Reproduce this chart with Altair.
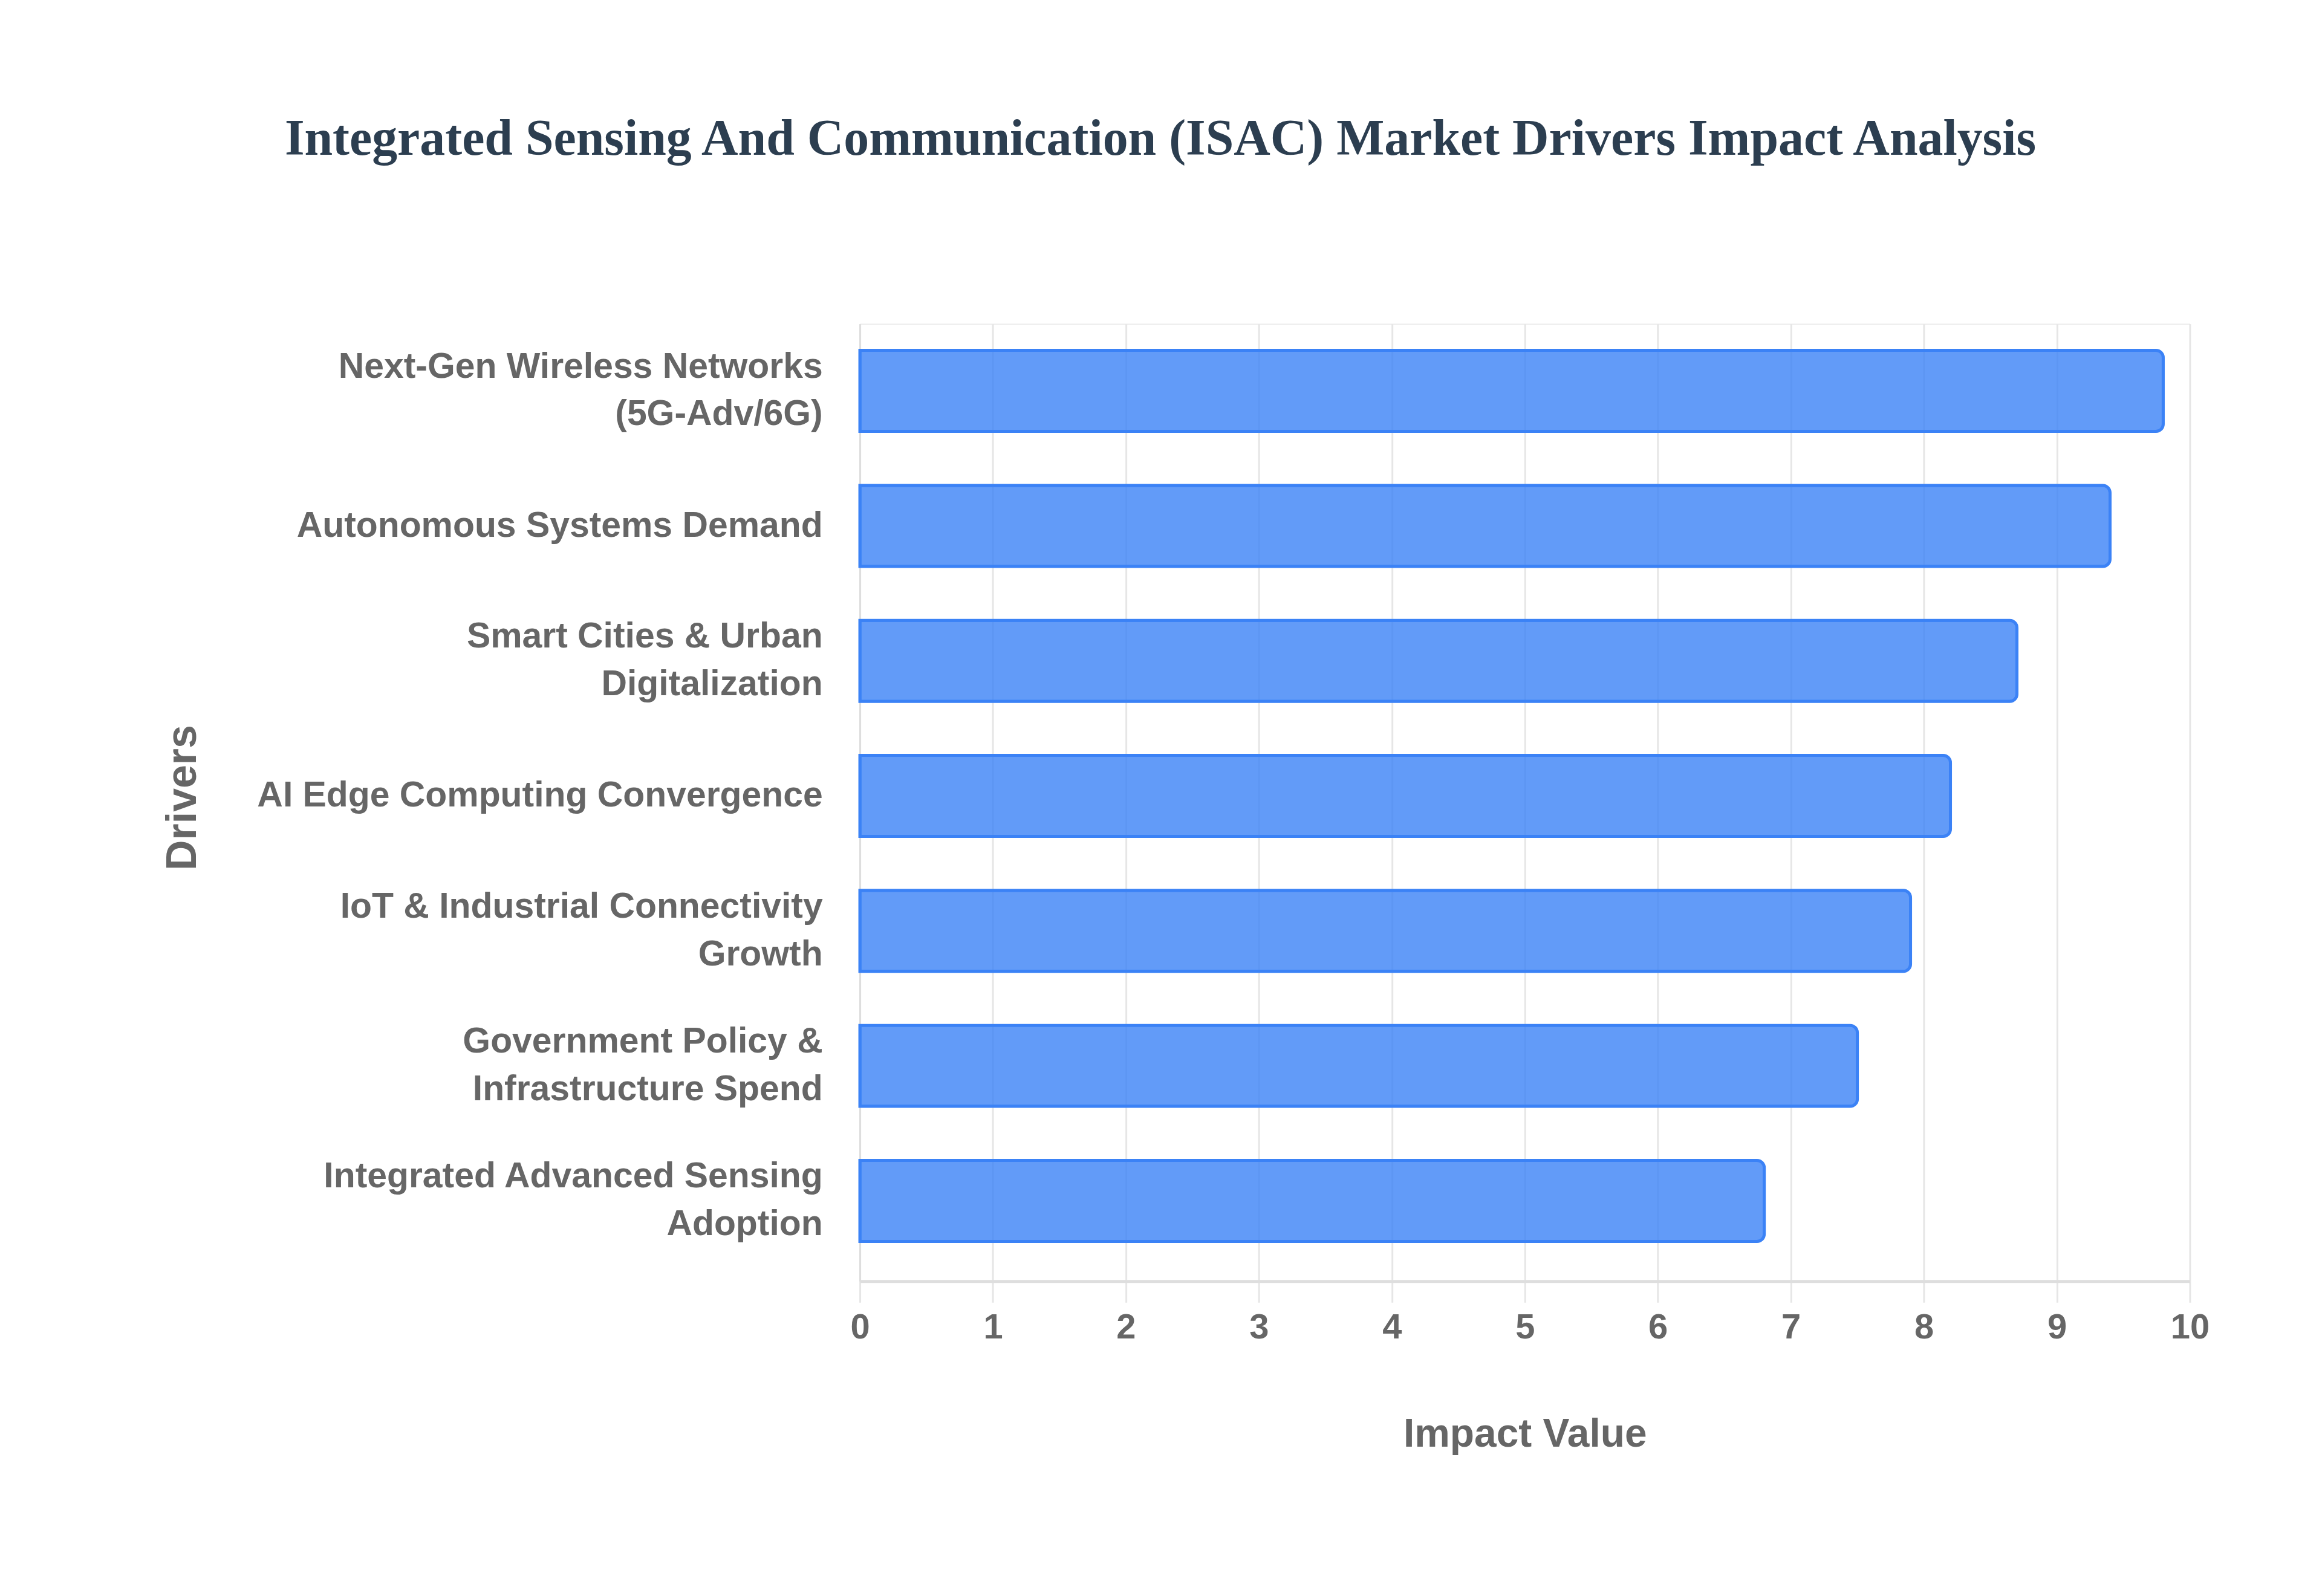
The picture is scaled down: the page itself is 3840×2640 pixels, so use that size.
import altair as alt
import pandas as pd

drivers = [
    "Next-Gen Wireless Networks\n(5G-Adv/6G)",
    "Autonomous Systems Demand",
    "Smart Cities & Urban\nDigitalization",
    "AI Edge Computing Convergence",
    "IoT & Industrial Connectivity\nGrowth",
    "Government Policy &\nInfrastructure Spend",
    "Integrated Advanced Sensing\nAdoption",
]
impact = [9.8, 9.4, 8.7, 8.2, 7.9, 7.5, 6.8]
x_ticks = list(range(0, 11))

df = pd.DataFrame({"driver": drivers, "impact": impact})

LABEL_FONT = "Liberation Sans"
GRAY = "#666666"

chart = (
    alt.Chart(df)
    .mark_bar(
        fill="#3B82F6",
        fillOpacity=0.8,
        stroke="#3B82F6",
        strokeWidth=5,
        cornerRadiusEnd=12,
    )
    .encode(
        x=alt.X(
            "impact:Q",
            scale=alt.Scale(domain=[0, 10], nice=False),
            axis=alt.Axis(
                title="Impact Value",
                values=x_ticks,
                format="d",
                grid=True,
                gridColor="#e6e6e6",
                gridWidth=3,
                ticks=True,
                tickColor="#e6e6e6",
                tickWidth=3,
                tickSize=35,
                domainColor="#dedede",
                domainWidth=5,
                labelFlush=False,
                labelOverlap=False,
                labelFont=LABEL_FONT,
                labelFontSize=58,
                labelFontWeight="bold",
                labelColor=GRAY,
                labelPadding=13,
                titleFont=LABEL_FONT,
                titleFontSize=66,
                titleFontWeight="bold",
                titleColor=GRAY,
                titlePadding=116,
            ),
        ),
        y=alt.Y(
            "driver:N",
            sort=drivers,
            scale=alt.Scale(paddingInner=0.4, paddingOuter=0.246, align=0.4),
            axis=alt.Axis(
                title="Drivers",
                ticks=False,
                grid=False,
                domainColor="#dedede",
                domainWidth=3,
                labelExpr="split(datum.value, '\\n')",
                labelOffset={
                    "condition": {
                        "test": "indexof(datum.value, '\\n') >= 0",
                        "value": -40,
                    },
                    "value": 0,
                },
                labelFont=LABEL_FONT,
                labelFontSize=59,
                labelFontWeight="bold",
                labelColor=GRAY,
                labelPadding=62,
                labelLineHeight=79,
                labelLimit=1400,
                titleFont=LABEL_FONT,
                titleFontSize=70,
                titleFontWeight="bold",
                titleColor=GRAY,
                titleX=-1122,
                titleY=785,
                titleBaseline="middle",
            ),
        ),
    )
    .properties(
        width=2204,
        height=1587,
        autosize=alt.AutoSizeParams(type="none"),
        padding={"left": 1417, "top": 526, "right": 211, "bottom": 519},
        title=alt.TitleParams(
            "Integrated Sensing And Communication (ISAC) Market Drivers Impact Analysis",
            font="Liberation Serif",
            fontSize=84,
            fontWeight="bold",
            color="#2C3E50",
            anchor="middle",
            dx=-604,
            offset=262,
        ),
    )
    .configure_view(stroke="transparent")
    .configure(background="white")
)

chart.save("out.html", embed_options={"renderer": "svg", "actions": False})
